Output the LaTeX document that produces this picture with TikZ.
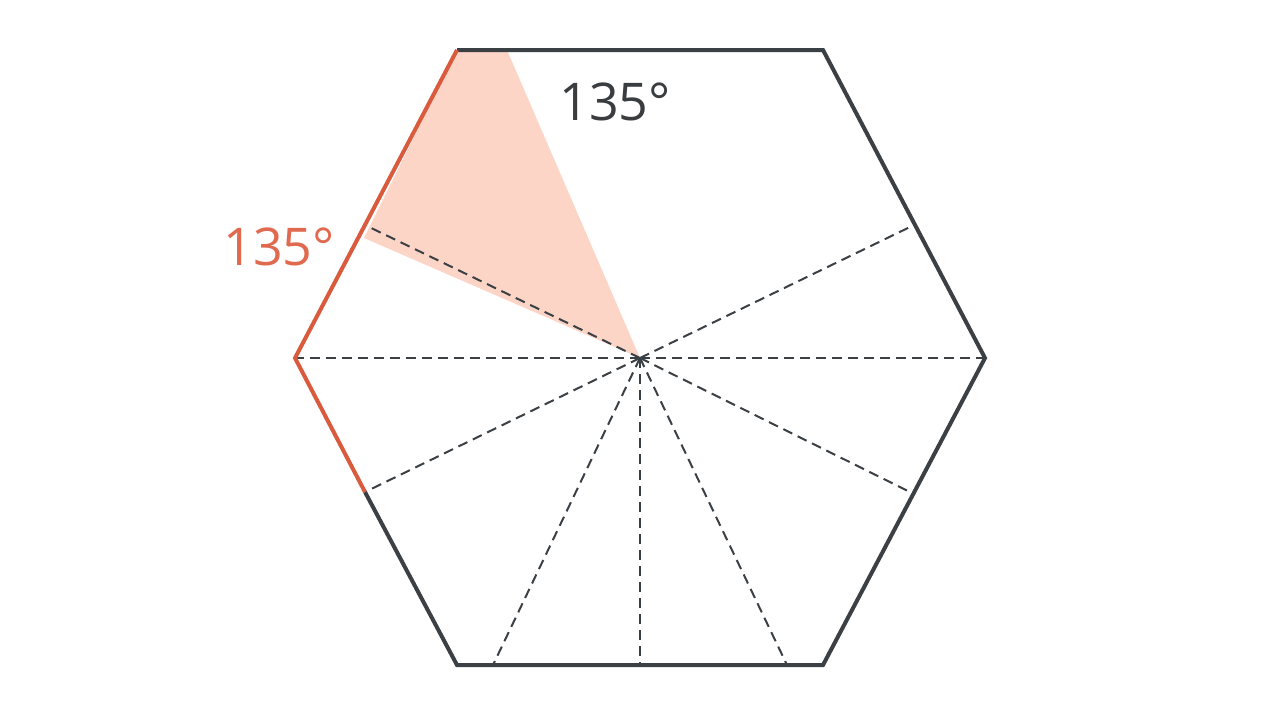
\documentclass[tikz,border=0pt]{standalone}
\usepackage{fontspec}
\setmainfont{Open Sans}
\usepackage{tikz}
\definecolor{edgegray}{HTML}{3B4045}
\definecolor{edgered}{HTML}{D95A3C}
\definecolor{wedgefill}{HTML}{FDD5C7}
\definecolor{labelgray}{HTML}{3A3D40}
\definecolor{labelred}{HTML}{E06A50}

\begin{document}
\begin{tikzpicture}[x=0.5pt, y=-0.5pt,
	side/.style={draw=edgegray, line width=2pt, line join=miter},
	redside/.style={draw=edgered, line width=2pt, line join=miter},
	ray/.style={draw=edgegray, line width=1pt, dash pattern=on 5pt off 3pt},
	angle/.style={font=\fontsize{26}{30}\selectfont}]
	\useasboundingbox (0,0) rectangle (1280,720);

	\coordinate (c) at (640,358);
	\coordinate (tl) at (457,50);
	\coordinate (tr) at (823,50);
	\coordinate (r) at (985,358);
	\coordinate (br) at (823,665);
	\coordinate (bl) at (457,665);
	\coordinate (l) at (295,358);

	\coordinate (ul) at (365,225);
	\coordinate (ll) at (365,492);
	\coordinate (ur) at (912,226);
	\coordinate (lr) at (910,492);
	\coordinate (b1) at (493,665);
	\coordinate (b2) at (640,665);
	\coordinate (b3) at (787,665);
	\coordinate (wtop) at (507,50);
	\coordinate (wlow) at (364,238);

	\fill[wedgefill] (c) -- (wtop) -- (tl) -- (wlow) -- cycle;

	\draw[ray] (c) -- (ul);
	\draw[ray] (c) -- (l);
	\draw[ray] (c) -- (ll);
	\draw[ray] (c) -- (b1);
	\draw[ray] (c) -- (b2);
	\draw[ray] (c) -- (b3);
	\draw[ray] (c) -- (lr);
	\draw[ray] (c) -- (r);
	\draw[ray] (c) -- (ur);

	\draw[side] (ll) -- (bl) -- (br) -- (r) -- (tr) -- (tl);
	\draw[redside] (tl) -- (l) -- (ll);

	\node[angle, text=labelgray] (topangle) at (615,102) {135°};
	\node[angle, text=labelred] (sideangle) at (279,247) {135°};
\end{tikzpicture}
\end{document}
